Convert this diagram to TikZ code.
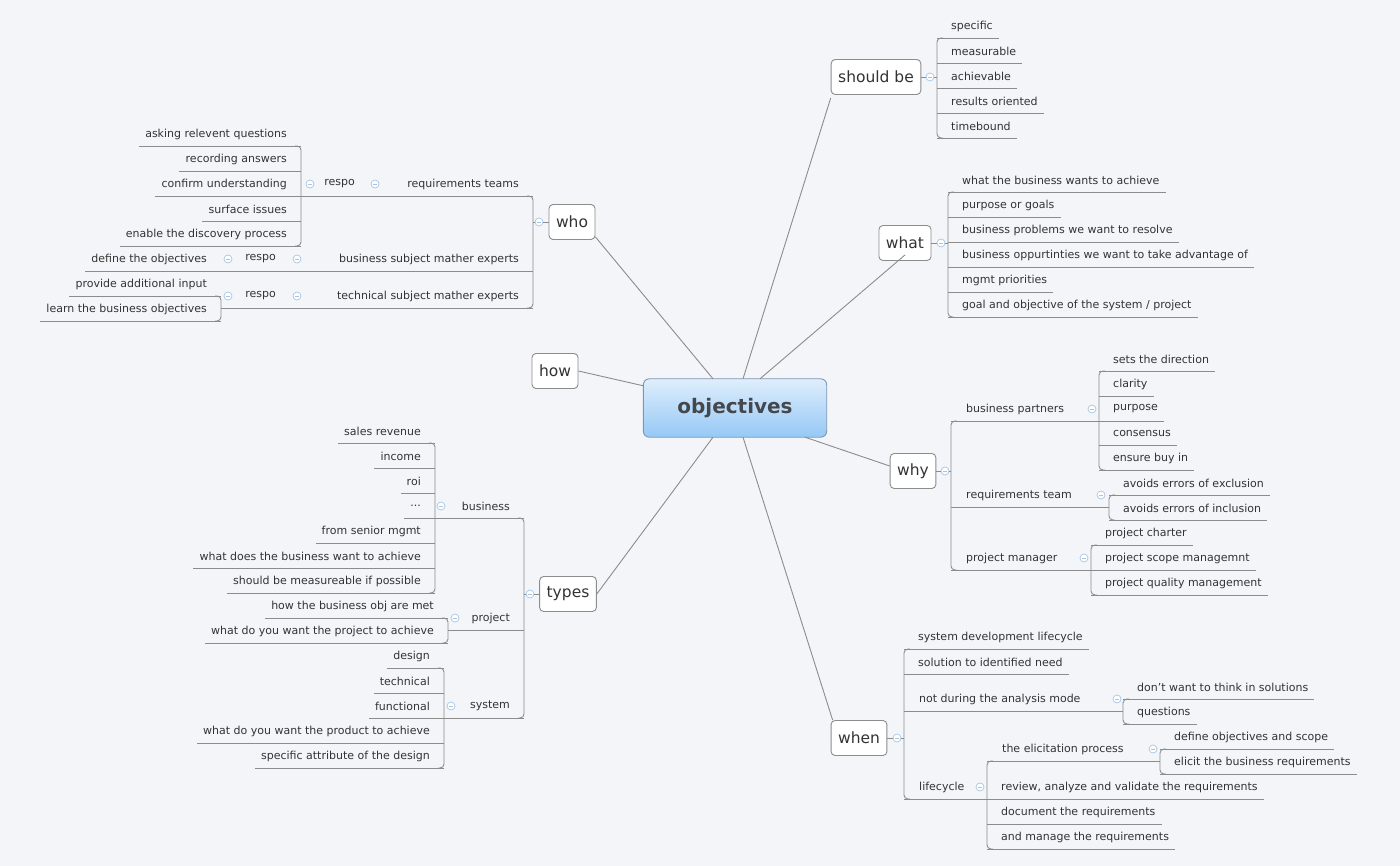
\documentclass[tikz,border=0pt]{standalone}
\usepackage{fontspec}
\setmainfont{DejaVu Sans}
\usetikzlibrary{calc,shapes.misc}
\definecolor{bg}{HTML}{F3F5F9}
\definecolor{ink}{HTML}{333333}
\definecolor{lnc}{HTML}{8C8C8C}
\definecolor{cb}{HTML}{A8C4E4}
\definecolor{cbord}{HTML}{7D96B4}
\definecolor{ctop}{HTML}{DEEEFC}
\definecolor{cbot}{HTML}{96C8F6}
\definecolor{ctext}{HTML}{44484C}
\tikzset{
 leaf/.style={inner sep=0pt,font=\fontsize{11}{13}\selectfont,text=ink},
 ln/.style={draw=lnc,line width=0.9pt},
 topic/.style={draw=lnc,fill=white,rounded corners=4pt,line width=0.9pt,minimum height=35pt,inner xsep=7pt,font=\fontsize{15.5}{18}\selectfont,text=ink},
 coll/.style={circle,draw=cb,fill=white,minimum size=8pt,inner sep=0pt,line width=0.7pt,
   path picture={\draw[cb,line width=0.8pt] ([xshift=-2.2pt]path picture bounding box.center) -- ([xshift=2.2pt]path picture bounding box.center);}},
}
\newcommand\lfR[4]{\node[leaf,anchor=west] (#1) at (#2+14,#3) {#4};
 \draw[ln] (#2,#3+12) -- ($(#1.east)+(6,12)$);}
\newcommand\lfL[4]{\node[leaf,anchor=east] (#1) at (#2-14,#3) {#4};
 \draw[ln] (#2,#3+12) -- ($(#1.west)+(-6,12)$);}
\newcommand\sbR[5]{\node[leaf,anchor=west] (#1) at (#2+15,#3) {#4};
 \draw[ln] (#2,#3+12) -- (#5,#3+12);}
\newcommand\sbL[5]{\node[leaf,anchor=east] (#1) at (#2-14,#3) {#4};
 \draw[ln] (#2,#3+12) -- (#5,#3+12);}
\newcommand\brR[3]{\draw[ln,rounded corners=4pt] (#1+6,#2+12) -- (#1,#2+12) -- (#1,#3+12) -- (#1+6,#3+12);}
\newcommand\brL[3]{\draw[ln,rounded corners=4pt] (#1-6,#2+12) -- (#1,#2+12) -- (#1,#3+12) -- (#1-6,#3+12);}
\begin{document}
\begin{tikzpicture}[x=1pt,y=-1pt]
\fill[bg] (0,0) rectangle (1400,866);
\useasboundingbox (0,0) rectangle (1400,866);

\node[rounded corners=6pt,minimum width=183pt,minimum height=58pt,top color=ctop,bottom color=cbot,font=\fontsize{20}{24}\selectfont\bfseries,text=ctext] (obj) at (735,408) {objectives};
\draw[draw=cbord,line width=0.9pt,rounded corners=6pt] (obj.south west) rectangle (obj.north east);

\node[topic] (should) at (876,77) {should be};
\node[topic] (what) at (905,243) {what};
\node[topic] (why) at (913,471) {why};
\node[topic] (when) at (859,738) {when};
\node[topic] (who) at (572,222) {who};
\node[topic] (how) at (555,371) {how};
\node[topic] (types) at (568,594) {types};

\draw[ln] ([xshift=8pt]obj.north) -- ([yshift=-3pt]should.south west);
\draw[ln] ([xshift=25pt]obj.north) -- ([yshift=6pt]what.south);
\draw[ln] ([xshift=70pt]obj.south) -- ([yshift=5pt]why.west);
\draw[ln] ([xshift=8pt]obj.south) -- ([xshift=2pt]when.north west);
\draw[ln] ([xshift=-22pt]obj.north) -- ([yshift=3pt]who.south east);
\draw[ln] ([yshift=-7pt]obj.north west) -- (how.east);
\draw[ln] ([xshift=-22pt]obj.south) -- (types.east);

\node[coll] (c1) at (930,77) {};
\draw[ln] (should.east) -- (c1.west); \draw[ln] (c1.east) -- (937,77);
\brR{937}{26}{126}
\lfR{s1}{937}{26}{specific}
\lfR{s2}{937}{51}{measurable}
\lfR{s3}{937}{76}{achievable}
\lfR{s4}{937}{101}{results oriented}
\lfR{s5}{937}{126}{timebound}

\node[coll] (c2) at (941,243) {};
\draw[ln] (what.east) -- (c2.west); \draw[ln] (c2.east) -- (948,243);
\brR{948}{180}{305}
\lfR{w1}{948}{180}{what the business wants to achieve}
\lfR{w2}{948}{205}{purpose or goals}
\lfR{w3}{948}{230}{business problems we want to resolve}
\lfR{w4}{948}{255}{business oppurtinties we want to take advantage of}
\lfR{w5}{948}{280}{mgmt priorities}
\lfR{w6}{948}{305}{goal and objective of the system / project}

\node[coll] (c3) at (945,471) {};
\draw[ln] (why.east) -- (c3.west); \draw[ln] (c3.east) -- (951,471);
\brR{951}{409}{558}
\sbR{y1}{951}{409}{business partners}{1099}
\node[coll] at (1092,409) {};
\brR{1099}{359}{458}
\lfR{y11}{1099}{359}{sets the direction}
\lfR{y12}{1099}{384}{clarity}
\lfR{y13}{1099}{409}{purpose}
\lfR{y14}{1099}{433}{consensus}
\lfR{y15}{1099}{458}{ensure buy in}
\sbR{y2}{951}{495}{requirements team}{1109}
\node[coll] at (1101,495) {};
\brR{1109}{483}{508}
\lfR{y21}{1109}{483}{avoids errors of exclusion}
\lfR{y22}{1109}{508}{avoids errors of inclusion}
\sbR{y3}{951}{558}{project manager}{1091}
\node[coll] at (1084,558) {};
\brR{1091}{533}{583}
\lfR{y31}{1091}{533}{project charter}
\lfR{y32}{1091}{558}{project scope managemnt}
\lfR{y33}{1091}{583}{project quality management}

\node[coll] (c4) at (897,738) {};
\draw[ln] (when.east) -- (c4.west); \draw[ln] (c4.east) -- (904,738);
\brR{904}{637}{787}
\lfR{n1}{904}{637}{system development lifecycle}
\lfR{n2}{904}{662}{solution to identified need}
\sbR{n3}{904}{699}{not during the analysis mode}{1123}
\node[coll] at (1117,699) {};
\brR{1123}{687}{712}
\lfR{n31}{1123}{687}{don't want to think in solutions}
\lfR{n32}{1123}{712}{questions}
\sbR{n4}{904}{787}{lifecycle}{987}
\node[coll] at (980,787) {};
\brR{987}{749}{837}
\sbR{n41}{987}{749}{the elicitation process}{1160}
\node[coll] at (1153,749) {};
\brR{1160}{737}{762}
\lfR{n411}{1160}{737}{define objectives and scope}
\lfR{n412}{1160}{762}{elicit the business requirements}
\lfR{n42}{987}{787}{review, analyze and validate the requirements}
\lfR{n43}{987}{812}{document the requirements}
\lfR{n44}{987}{837}{and manage the requirements}

\node[coll] (c5) at (539,222) {};
\draw[ln] (who.west) -- (c5.east); \draw[ln] (c5.west) -- (533,222);
\brL{533}{184}{296}
\sbL{o1}{533}{184}{requirements teams}{301}
\node[coll] at (375,184) {};
\node[leaf,anchor=east] (r1) at (355,184) {respo};
\node[coll] at (310,184) {};
\brL{301}{134}{234}
\lfL{o11}{301}{134}{asking relevent questions}
\lfL{o12}{301}{159}{recording answers}
\lfL{o13}{301}{184}{confirm understanding}
\lfL{o14}{301}{209}{surface issues}
\lfL{o15}{301}{234}{enable the discovery process}
\sbL{o2}{533}{259}{business subject mather experts}{221}
\node[coll] at (297,259) {};
\node[leaf,anchor=east] (r2) at (276,259) {respo};
\node[coll] at (228,259) {};
\lfL{o21}{221}{259}{define the objectives}
\sbL{o3}{533}{296}{technical subject mather experts}{221}
\node[coll] at (297,296) {};
\node[leaf,anchor=east] (r3) at (276,296) {respo};
\node[coll] at (228,296) {};
\brL{221}{284}{309}
\lfL{o31}{221}{284}{provide additional input}
\lfL{o32}{221}{309}{learn the business objectives}

\node[coll] (c6) at (530,594) {};
\draw[ln] (types.west) -- (c6.east); \draw[ln] (c6.west) -- (524,594);
\brL{524}{506}{706}
\sbL{t1}{524}{506}{business}{435}
\node[coll] at (441,506) {};
\brL{435}{431}{581}
\lfL{t11}{435}{431}{sales revenue}
\lfL{t12}{435}{456}{income}
\lfL{t13}{435}{481}{roi}
\lfL{t14}{435}{506}{...}
\lfL{t15}{435}{531}{from senior mgmt}
\lfL{t16}{435}{556}{what does the business want to achieve}
\lfL{t17}{435}{581}{should be measureable if possible}
\sbL{t2}{524}{618}{project}{448}
\node[coll] at (455,618) {};
\brL{448}{606}{631}
\lfL{t21}{448}{606}{how the business obj are met}
\lfL{t22}{448}{631}{what do you want the project to achieve}
\sbL{t3}{524}{706}{system}{444}
\node[coll] at (451,706) {};
\brL{444}{656}{756}
\lfL{t31}{444}{656}{design}
\lfL{t32}{444}{681}{technical}
\lfL{t33}{444}{706}{functional}
\lfL{t34}{444}{731}{what do you want the product to achieve}
\lfL{t35}{444}{756}{specific attribute of the design}
\end{tikzpicture}
\end{document}
